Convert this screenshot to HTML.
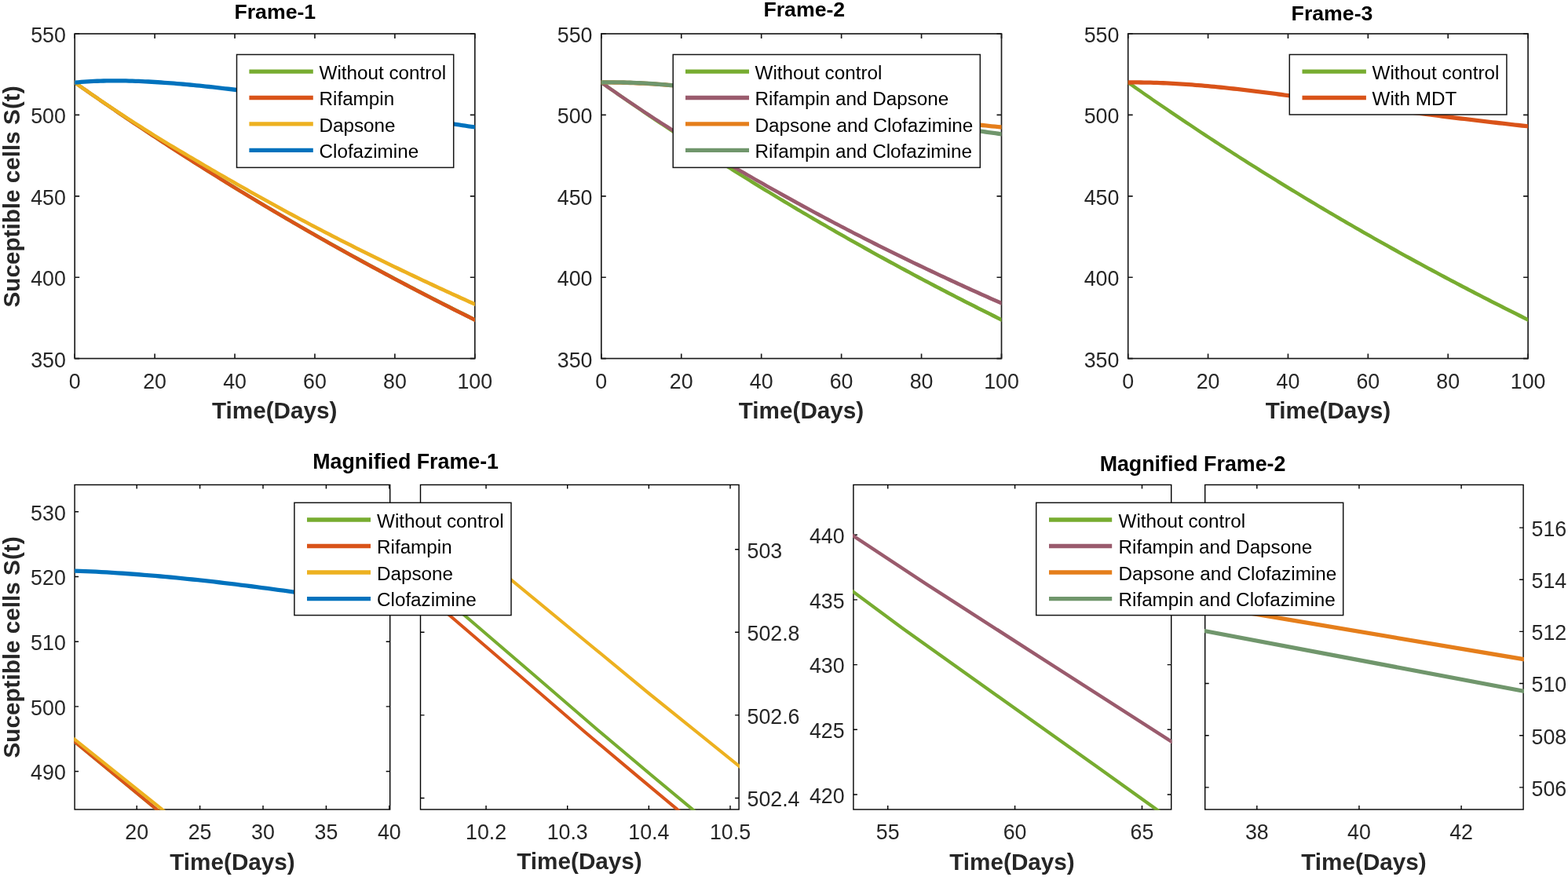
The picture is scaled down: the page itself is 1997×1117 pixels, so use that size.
<!DOCTYPE html>
<html lang="en">
<head>
<meta charset="utf-8">
<title>Susceptible cells S(t) - frames</title>
<style>
html,body{margin:0;padding:0;background:#fff;}
body{width:1997px;height:1117px;overflow:hidden;}
svg{display:block;position:absolute;left:0;top:0;}
text{font-family:"Liberation Sans",sans-serif;fill:#262626;}
.tk text{font-size:26.8px;}
.lg{font-size:24.25px;fill:#000;}
.lb{font-size:29.7px;font-weight:bold;}
.tt{font-size:26.7px;font-weight:bold;fill:#000;}
</style>
</head>
<body>
<svg width="1997" height="1117" viewBox="0 0 1997 1117">
<rect width="1997" height="1117" fill="#fff"/>
<g stroke="#1a1a1a" stroke-width="1.65" fill="none">
<rect x="95.2" y="43" width="509.6" height="413.6"/>
<path d="M95.2 456.6v-6M95.2 43v6M197.12 456.6v-6M197.12 43v6M299.04 456.6v-6M299.04 43v6M400.96 456.6v-6M400.96 43v6M502.88 456.6v-6M502.88 43v6M604.8 456.6v-6M604.8 43v6M95.2 456.6h6M604.8 456.6h-6M95.2 353.2h6M604.8 353.2h-6M95.2 249.8h6M604.8 249.8h-6M95.2 146.4h6M604.8 146.4h-6M95.2 43h6M604.8 43h-6"/>
</g>
<g class="tk">
<text transform="translate(95.2 494.9) scale(1 1.045)" text-anchor="middle">0</text>
<text transform="translate(197.12 494.9) scale(1 1.045)" text-anchor="middle">20</text>
<text transform="translate(299.04 494.9) scale(1 1.045)" text-anchor="middle">40</text>
<text transform="translate(400.96 494.9) scale(1 1.045)" text-anchor="middle">60</text>
<text transform="translate(502.88 494.9) scale(1 1.045)" text-anchor="middle">80</text>
<text transform="translate(604.8 494.9) scale(1 1.045)" text-anchor="middle">100</text>
<text transform="translate(83.9 467.5) scale(1 1.045)" text-anchor="end">350</text>
<text transform="translate(83.9 364.1) scale(1 1.045)" text-anchor="end">400</text>
<text transform="translate(83.9 260.7) scale(1 1.045)" text-anchor="end">450</text>
<text transform="translate(83.9 157.3) scale(1 1.045)" text-anchor="end">500</text>
<text transform="translate(83.9 53.9) scale(1 1.045)" text-anchor="end">550</text>
</g>
<clipPath id="c1"><rect x="94.4" y="42.2" width="511.2" height="415.2"/></clipPath>
<g clip-path="url(#c1)" stroke="none">
<polygon fill="#77AC30" points="95.2,102.39 99.28,105.26 103.35,108.12 107.43,110.98 111.51,113.82 115.58,116.66 119.66,119.49 123.74,122.31 127.81,125.13 131.89,127.93 135.97,130.73 140.04,133.52 144.12,136.3 148.2,139.08 152.28,141.84 156.35,144.6 160.43,147.35 164.51,150.09 168.58,152.83 172.66,155.56 176.74,158.28 180.81,160.99 184.89,163.69 188.97,166.39 193.04,169.08 197.12,171.76 201.2,174.43 205.27,177.09 209.35,179.75 213.43,182.4 217.5,185.05 221.58,187.68 225.66,190.31 229.73,192.93 233.81,195.54 237.89,198.15 241.96,200.74 246.04,203.34 250.12,205.92 254.2,208.49 258.27,211.06 262.35,213.62 266.43,216.18 270.5,218.72 274.58,221.26 278.66,223.8 282.73,226.32 286.81,228.84 290.89,231.35 294.96,233.85 299.04,236.35 303.12,238.84 307.19,241.32 311.27,243.8 315.35,246.26 319.42,248.72 323.5,251.18 327.58,253.62 331.65,256.06 335.73,258.5 339.81,260.92 343.88,263.34 347.96,265.76 352.04,268.16 356.12,270.56 360.19,272.95 364.27,275.34 368.35,277.71 372.42,280.09 376.5,282.45 380.58,284.81 384.65,287.16 388.73,289.5 392.81,291.84 396.88,294.17 400.96,296.5 405.04,298.81 409.11,301.13 413.19,303.43 417.27,305.73 421.34,308.02 425.42,310.31 429.5,312.58 433.57,314.86 437.65,317.12 441.73,319.38 445.8,321.63 449.88,323.88 453.96,326.12 458.04,328.35 462.11,330.58 466.19,332.8 470.27,335.02 474.34,337.22 478.42,339.43 482.5,341.62 486.57,343.81 490.65,345.99 494.73,348.17 498.8,350.34 502.88,352.51 506.96,354.66 511.03,356.82 515.11,358.96 519.19,361.1 523.26,363.24 527.34,365.36 531.42,367.49 535.49,369.6 539.57,371.71 543.65,373.81 547.72,375.91 551.8,378 555.88,380.09 559.96,382.17 564.03,384.24 568.11,386.31 572.19,388.37 576.26,390.43 580.34,392.48 584.42,394.52 588.49,396.56 592.57,398.6 596.65,400.62 600.72,402.64 604.8,404.66 604.8,409.96 600.72,407.94 596.65,405.92 592.57,403.9 588.49,401.86 584.42,399.82 580.34,397.78 576.26,395.73 572.19,393.67 568.11,391.61 564.03,389.54 559.96,387.47 555.88,385.39 551.8,383.3 547.72,381.21 543.65,379.11 539.57,377.01 535.49,374.9 531.42,372.79 527.34,370.66 523.26,368.54 519.19,366.4 515.11,364.26 511.03,362.12 506.96,359.96 502.88,357.81 498.8,355.64 494.73,353.47 490.65,351.29 486.57,349.11 482.5,346.92 478.42,344.73 474.34,342.52 470.27,340.32 466.19,338.1 462.11,335.88 458.04,333.65 453.96,331.42 449.88,329.18 445.8,326.93 441.73,324.68 437.65,322.42 433.57,320.16 429.5,317.88 425.42,315.61 421.34,313.32 417.27,311.03 413.19,308.73 409.11,306.43 405.04,304.11 400.96,301.8 396.88,299.47 392.81,297.14 388.73,294.8 384.65,292.46 380.58,290.11 376.5,287.75 372.42,285.39 368.35,283.01 364.27,280.64 360.19,278.25 356.12,275.86 352.04,273.46 347.96,271.06 343.88,268.64 339.81,266.22 335.73,263.8 331.65,261.36 327.58,258.92 323.5,256.48 319.42,254.02 315.35,251.56 311.27,249.1 307.19,246.62 303.12,244.14 299.04,241.65 294.96,239.15 290.89,236.65 286.81,234.14 282.73,231.62 278.66,229.1 274.58,226.56 270.5,224.02 266.43,221.48 262.35,218.92 258.27,216.36 254.2,213.79 250.12,211.22 246.04,208.64 241.96,206.04 237.89,203.45 233.81,200.84 229.73,198.23 225.66,195.61 221.58,192.98 217.5,190.35 213.43,187.7 209.35,185.05 205.27,182.39 201.2,179.73 197.12,177.06 193.04,174.38 188.97,171.69 184.89,168.99 180.81,166.29 176.74,163.58 172.66,160.86 168.58,158.13 164.51,155.39 160.43,152.65 156.35,149.9 152.28,147.14 148.2,144.38 144.12,141.6 140.04,138.82 135.97,136.03 131.89,133.23 127.81,130.43 123.74,127.61 119.66,124.79 115.58,121.96 111.51,119.12 107.43,116.28 103.35,113.42 99.28,110.56 95.2,107.69"/>
<polygon fill="#D95319" points="95.2,102.39 99.28,105.26 103.35,108.13 107.43,110.98 111.51,113.83 115.58,116.67 119.66,119.5 123.74,122.32 127.81,125.14 131.89,127.95 135.97,130.74 140.04,133.54 144.12,136.32 148.2,139.09 152.28,141.86 156.35,144.62 160.43,147.37 164.51,150.12 168.58,152.85 172.66,155.58 176.74,158.3 180.81,161.01 184.89,163.72 188.97,166.42 193.04,169.11 197.12,171.79 201.2,174.46 205.27,177.13 209.35,179.79 213.43,182.44 217.5,185.09 221.58,187.72 225.66,190.35 229.73,192.97 233.81,195.59 237.89,198.19 241.96,200.79 246.04,203.38 250.12,205.97 254.2,208.55 258.27,211.12 262.35,213.68 266.43,216.23 270.5,218.78 274.58,221.32 278.66,223.86 282.73,226.38 286.81,228.9 290.89,231.41 294.96,233.92 299.04,236.41 303.12,238.91 307.19,241.39 311.27,243.87 315.35,246.33 319.42,248.8 323.5,251.25 327.58,253.7 331.65,256.14 335.73,258.58 339.81,261 343.88,263.42 347.96,265.84 352.04,268.24 356.12,270.64 360.19,273.04 364.27,275.42 368.35,277.8 372.42,280.18 376.5,282.54 380.58,284.9 384.65,287.25 388.73,289.6 392.81,291.94 396.88,294.27 400.96,296.6 405.04,298.92 409.11,301.23 413.19,303.53 417.27,305.83 421.34,308.13 425.42,310.41 429.5,312.69 433.57,314.97 437.65,317.23 441.73,319.49 445.8,321.75 449.88,323.99 453.96,326.24 458.04,328.47 462.11,330.7 466.19,332.92 470.27,335.14 474.34,337.35 478.42,339.55 482.5,341.75 486.57,343.94 490.65,346.12 494.73,348.3 498.8,350.47 502.88,352.64 506.96,354.8 511.03,356.95 515.11,359.1 519.19,361.24 523.26,363.38 527.34,365.5 531.42,367.63 535.49,369.74 539.57,371.86 543.65,373.96 547.72,376.06 551.8,378.15 555.88,380.24 559.96,382.32 564.03,384.4 568.11,386.46 572.19,388.53 576.26,390.59 580.34,392.64 584.42,394.68 588.49,396.72 592.57,398.76 596.65,400.79 600.72,402.81 604.8,404.83 604.8,410.13 600.72,408.11 596.65,406.09 592.57,404.06 588.49,402.02 584.42,399.98 580.34,397.94 576.26,395.89 572.19,393.83 568.11,391.76 564.03,389.7 559.96,387.62 555.88,385.54 551.8,383.45 547.72,381.36 543.65,379.26 539.57,377.16 535.49,375.04 531.42,372.93 527.34,370.8 523.26,368.68 519.19,366.54 515.11,364.4 511.03,362.25 506.96,360.1 502.88,357.94 498.8,355.77 494.73,353.6 490.65,351.42 486.57,349.24 482.5,347.05 478.42,344.85 474.34,342.65 470.27,340.44 466.19,338.22 462.11,336 458.04,333.77 453.96,331.54 449.88,329.29 445.8,327.05 441.73,324.79 437.65,322.53 433.57,320.27 429.5,317.99 425.42,315.71 421.34,313.43 417.27,311.13 413.19,308.83 409.11,306.53 405.04,304.22 400.96,301.9 396.88,299.57 392.81,297.24 388.73,294.9 384.65,292.55 380.58,290.2 376.5,287.84 372.42,285.48 368.35,283.1 364.27,280.72 360.19,278.34 356.12,275.94 352.04,273.54 347.96,271.14 343.88,268.72 339.81,266.3 335.73,263.88 331.65,261.44 327.58,259 323.5,256.55 319.42,254.1 315.35,251.63 311.27,249.17 307.19,246.69 303.12,244.21 299.04,241.71 294.96,239.22 290.89,236.71 286.81,234.2 282.73,231.68 278.66,229.16 274.58,226.62 270.5,224.08 266.43,221.53 262.35,218.98 258.27,216.42 254.2,213.85 250.12,211.27 246.04,208.68 241.96,206.09 237.89,203.49 233.81,200.89 229.73,198.27 225.66,195.65 221.58,193.02 217.5,190.39 213.43,187.74 209.35,185.09 205.27,182.43 201.2,179.76 197.12,177.09 193.04,174.41 188.97,171.72 184.89,169.02 180.81,166.31 176.74,163.6 172.66,160.88 168.58,158.15 164.51,155.42 160.43,152.67 156.35,149.92 152.28,147.16 148.2,144.39 144.12,141.62 140.04,138.84 135.97,136.04 131.89,133.25 127.81,130.44 123.74,127.62 119.66,124.8 115.58,121.97 111.51,119.13 107.43,116.28 103.35,113.43 99.28,110.56 95.2,107.69"/>
<polygon fill="#EDB120" points="95.2,102.39 99.28,105.26 103.35,108.11 107.43,110.95 111.51,113.78 115.58,116.59 119.66,119.39 123.74,122.18 127.81,124.96 131.89,127.73 135.97,130.49 140.04,133.23 144.12,135.97 148.2,138.7 152.28,141.41 156.35,144.09 160.43,146.75 164.51,149.39 168.58,152.03 172.66,154.65 176.74,157.27 180.81,159.87 184.89,162.46 188.97,165.03 193.04,167.6 197.12,170.15 201.2,172.68 205.27,175.2 209.35,177.71 213.43,180.19 217.5,182.66 221.58,185.1 225.66,187.53 229.73,189.95 233.81,192.36 237.89,194.76 241.96,197.16 246.04,199.56 250.12,201.96 254.2,204.36 258.27,206.75 262.35,209.14 266.43,211.52 270.5,213.9 274.58,216.27 278.66,218.63 282.73,220.99 286.81,223.34 290.89,225.69 294.96,228.03 299.04,230.36 303.12,232.68 307.19,235 311.27,237.31 315.35,239.61 319.42,241.9 323.5,244.19 327.58,246.47 331.65,248.74 335.73,251 339.81,253.26 343.88,255.52 347.96,257.76 352.04,260 356.12,262.23 360.19,264.46 364.27,266.68 368.35,268.89 372.42,271.09 376.5,273.28 380.58,275.47 384.65,277.65 388.73,279.82 392.81,281.98 396.88,284.14 400.96,286.28 405.04,288.42 409.11,290.54 413.19,292.66 417.27,294.77 421.34,296.87 425.42,298.96 429.5,301.05 433.57,303.13 437.65,305.2 441.73,307.26 445.8,309.31 449.88,311.36 453.96,313.4 458.04,315.44 462.11,317.46 466.19,319.48 470.27,321.5 474.34,323.51 478.42,325.51 482.5,327.51 486.57,329.5 490.65,331.48 494.73,333.46 498.8,335.44 502.88,337.41 506.96,339.37 511.03,341.33 515.11,343.29 519.19,345.23 523.26,347.18 527.34,349.11 531.42,351.04 535.49,352.97 539.57,354.88 543.65,356.8 547.72,358.7 551.8,360.6 555.88,362.5 559.96,364.39 564.03,366.27 568.11,368.15 572.19,370.02 576.26,371.88 580.34,373.74 584.42,375.6 588.49,377.45 592.57,379.29 596.65,381.13 600.72,382.96 604.8,384.79 604.8,390.09 600.72,388.26 596.65,386.43 592.57,384.59 588.49,382.75 584.42,380.9 580.34,379.04 576.26,377.18 572.19,375.32 568.11,373.45 564.03,371.57 559.96,369.69 555.88,367.8 551.8,365.9 547.72,364 543.65,362.1 539.57,360.18 535.49,358.27 531.42,356.34 527.34,354.41 523.26,352.48 519.19,350.53 515.11,348.59 511.03,346.63 506.96,344.67 502.88,342.71 498.8,340.74 494.73,338.76 490.65,336.78 486.57,334.8 482.5,332.81 478.42,330.81 474.34,328.81 470.27,326.8 466.19,324.78 462.11,322.76 458.04,320.74 453.96,318.7 449.88,316.66 445.8,314.61 441.73,312.56 437.65,310.5 433.57,308.43 429.5,306.35 425.42,304.26 421.34,302.17 417.27,300.07 413.19,297.96 409.11,295.84 405.04,293.72 400.96,291.58 396.88,289.44 392.81,287.28 388.73,285.12 384.65,282.95 380.58,280.77 376.5,278.58 372.42,276.39 368.35,274.19 364.27,271.98 360.19,269.76 356.12,267.53 352.04,265.3 347.96,263.06 343.88,260.82 339.81,258.56 335.73,256.3 331.65,254.04 327.58,251.77 323.5,249.49 319.42,247.2 315.35,244.91 311.27,242.61 307.19,240.3 303.12,237.98 299.04,235.66 294.96,233.33 290.89,230.99 286.81,228.64 282.73,226.29 278.66,223.93 274.58,221.57 270.5,219.2 266.43,216.82 262.35,214.44 258.27,212.05 254.2,209.66 250.12,207.26 246.04,204.86 241.96,202.46 237.89,200.06 233.81,197.66 229.73,195.25 225.66,192.83 221.58,190.4 217.5,187.96 213.43,185.49 209.35,183.01 205.27,180.5 201.2,177.98 197.12,175.45 193.04,172.9 188.97,170.33 184.89,167.76 180.81,165.17 176.74,162.57 172.66,159.95 168.58,157.33 164.51,154.69 160.43,152.05 156.35,149.39 152.28,146.71 148.2,144 144.12,141.27 140.04,138.53 135.97,135.79 131.89,133.03 127.81,130.26 123.74,127.48 119.66,124.69 115.58,121.89 111.51,119.08 107.43,116.25 103.35,113.41 99.28,110.56 95.2,107.69"/>
<polygon fill="#0072BD" points="95.2,102.52 99.28,102.14 103.35,101.8 107.43,101.49 111.51,101.22 115.58,100.99 119.66,100.78 123.74,100.61 127.81,100.47 131.89,100.36 135.97,100.28 140.04,100.22 144.12,100.19 148.2,100.19 152.28,100.21 156.35,100.26 160.43,100.32 164.51,100.41 168.58,100.52 172.66,100.65 176.74,100.8 180.81,100.97 184.89,101.16 188.97,101.37 193.04,101.59 197.12,101.83 201.2,102.08 205.27,102.35 209.35,102.63 213.43,102.93 217.5,103.24 221.58,103.56 225.66,103.89 229.73,104.24 233.81,104.6 237.89,104.97 241.96,105.35 246.04,105.74 250.12,106.14 254.2,106.55 258.27,106.97 262.35,107.4 266.43,107.83 270.5,108.28 274.58,108.73 278.66,109.19 282.73,109.66 286.81,110.14 290.89,110.62 294.96,111.11 299.04,111.61 303.12,112.11 307.19,112.62 311.27,113.14 315.35,113.66 319.42,114.19 323.5,114.72 327.58,115.26 331.65,115.81 335.73,116.36 339.81,116.92 343.88,117.48 347.96,118.05 352.04,118.62 356.12,119.2 360.19,119.78 364.27,120.37 368.35,120.96 372.42,121.56 376.5,122.16 380.58,122.77 384.65,123.38 388.73,123.99 392.81,124.61 396.88,125.24 400.96,125.87 405.04,126.5 409.11,127.14 413.19,127.78 417.27,128.43 421.34,129.08 425.42,129.73 429.5,130.39 433.57,131.05 437.65,131.71 441.73,132.38 445.8,133.05 449.88,133.73 453.96,134.4 458.04,135.09 462.11,135.77 466.19,136.46 470.27,137.14 474.34,137.84 478.42,138.53 482.5,139.22 486.57,139.92 490.65,140.62 494.73,141.32 498.8,142.02 502.88,142.72 506.96,143.42 511.03,144.12 515.11,144.82 519.19,145.52 523.26,146.22 527.34,146.92 531.42,147.62 535.49,148.31 539.57,149.01 543.65,149.69 547.72,150.38 551.8,151.06 555.88,151.74 559.96,152.41 564.03,153.08 568.11,153.74 572.19,154.39 576.26,155.04 580.34,155.68 584.42,156.31 588.49,156.93 592.57,157.54 596.65,158.14 600.72,158.73 604.8,159.3 604.8,164.6 600.72,164.03 596.65,163.44 592.57,162.84 588.49,162.23 584.42,161.61 580.34,160.98 576.26,160.34 572.19,159.69 568.11,159.04 564.03,158.38 559.96,157.71 555.88,157.04 551.8,156.36 547.72,155.68 543.65,154.99 539.57,154.31 535.49,153.61 531.42,152.92 527.34,152.22 523.26,151.52 519.19,150.82 515.11,150.12 511.03,149.42 506.96,148.72 502.88,148.02 498.8,147.32 494.73,146.62 490.65,145.92 486.57,145.22 482.5,144.52 478.42,143.83 474.34,143.14 470.27,142.44 466.19,141.76 462.11,141.07 458.04,140.39 453.96,139.7 449.88,139.03 445.8,138.35 441.73,137.68 437.65,137.01 433.57,136.35 429.5,135.69 425.42,135.03 421.34,134.38 417.27,133.73 413.19,133.08 409.11,132.44 405.04,131.8 400.96,131.17 396.88,130.54 392.81,129.91 388.73,129.29 384.65,128.68 380.58,128.07 376.5,127.46 372.42,126.86 368.35,126.26 364.27,125.67 360.19,125.08 356.12,124.5 352.04,123.92 347.96,123.35 343.88,122.78 339.81,122.22 335.73,121.66 331.65,121.11 327.58,120.56 323.5,120.02 319.42,119.49 315.35,118.96 311.27,118.44 307.19,117.92 303.12,117.41 299.04,116.91 294.96,116.41 290.89,115.92 286.81,115.44 282.73,114.96 278.66,114.49 274.58,114.03 270.5,113.58 266.43,113.13 262.35,112.7 258.27,112.27 254.2,111.85 250.12,111.44 246.04,111.04 241.96,110.65 237.89,110.27 233.81,109.9 229.73,109.54 225.66,109.19 221.58,108.86 217.5,108.54 213.43,108.23 209.35,107.93 205.27,107.65 201.2,107.38 197.12,107.13 193.04,106.89 188.97,106.67 184.89,106.46 180.81,106.27 176.74,106.1 172.66,105.95 168.58,105.82 164.51,105.71 160.43,105.62 156.35,105.56 152.28,105.51 148.2,105.49 144.12,105.49 140.04,105.52 135.97,105.58 131.89,105.66 127.81,105.77 123.74,105.91 119.66,106.08 115.58,106.29 111.51,106.52 107.43,106.79 103.35,107.1 99.28,107.44 95.2,107.82"/>
</g>
<g stroke="#1a1a1a" stroke-width="1.65" fill="none">
<rect x="765.8" y="43" width="509.7" height="413.6"/>
<path d="M765.8 456.6v-6M765.8 43v6M867.74 456.6v-6M867.74 43v6M969.68 456.6v-6M969.68 43v6M1071.62 456.6v-6M1071.62 43v6M1173.56 456.6v-6M1173.56 43v6M1275.5 456.6v-6M1275.5 43v6M765.8 456.6h6M1275.5 456.6h-6M765.8 353.2h6M1275.5 353.2h-6M765.8 249.8h6M1275.5 249.8h-6M765.8 146.4h6M1275.5 146.4h-6M765.8 43h6M1275.5 43h-6"/>
</g>
<g class="tk">
<text transform="translate(765.8 494.9) scale(1 1.045)" text-anchor="middle">0</text>
<text transform="translate(867.74 494.9) scale(1 1.045)" text-anchor="middle">20</text>
<text transform="translate(969.68 494.9) scale(1 1.045)" text-anchor="middle">40</text>
<text transform="translate(1071.62 494.9) scale(1 1.045)" text-anchor="middle">60</text>
<text transform="translate(1173.56 494.9) scale(1 1.045)" text-anchor="middle">80</text>
<text transform="translate(1275.5 494.9) scale(1 1.045)" text-anchor="middle">100</text>
<text transform="translate(754.5 467.5) scale(1 1.045)" text-anchor="end">350</text>
<text transform="translate(754.5 364.1) scale(1 1.045)" text-anchor="end">400</text>
<text transform="translate(754.5 260.7) scale(1 1.045)" text-anchor="end">450</text>
<text transform="translate(754.5 157.3) scale(1 1.045)" text-anchor="end">500</text>
<text transform="translate(754.5 53.9) scale(1 1.045)" text-anchor="end">550</text>
</g>
<clipPath id="c2"><rect x="765" y="42.2" width="511.3" height="415.2"/></clipPath>
<g clip-path="url(#c2)" stroke="none">
<polygon fill="#77AC30" points="765.8,102.39 769.88,105.26 773.96,108.12 778.03,110.98 782.11,113.82 786.19,116.66 790.27,119.49 794.34,122.31 798.42,125.13 802.5,127.93 806.58,130.73 810.65,133.52 814.73,136.3 818.81,139.08 822.89,141.84 826.96,144.6 831.04,147.35 835.12,150.09 839.2,152.83 843.27,155.56 847.35,158.28 851.43,160.99 855.51,163.69 859.58,166.39 863.66,169.08 867.74,171.76 871.82,174.43 875.9,177.09 879.97,179.75 884.05,182.4 888.13,185.05 892.21,187.68 896.28,190.31 900.36,192.93 904.44,195.54 908.52,198.15 912.59,200.74 916.67,203.34 920.75,205.92 924.83,208.49 928.9,211.06 932.98,213.62 937.06,216.18 941.14,218.72 945.21,221.26 949.29,223.8 953.37,226.32 957.45,228.84 961.52,231.35 965.6,233.85 969.68,236.35 973.76,238.84 977.84,241.32 981.91,243.8 985.99,246.26 990.07,248.72 994.15,251.18 998.22,253.62 1002.3,256.06 1006.38,258.5 1010.46,260.92 1014.53,263.34 1018.61,265.76 1022.69,268.16 1026.77,270.56 1030.84,272.95 1034.92,275.34 1039,277.71 1043.08,280.09 1047.15,282.45 1051.23,284.81 1055.31,287.16 1059.39,289.5 1063.46,291.84 1067.54,294.17 1071.62,296.5 1075.7,298.81 1079.78,301.13 1083.85,303.43 1087.93,305.73 1092.01,308.02 1096.09,310.31 1100.16,312.58 1104.24,314.86 1108.32,317.12 1112.4,319.38 1116.47,321.63 1120.55,323.88 1124.63,326.12 1128.71,328.35 1132.78,330.58 1136.86,332.8 1140.94,335.02 1145.02,337.22 1149.09,339.43 1153.17,341.62 1157.25,343.81 1161.33,345.99 1165.4,348.17 1169.48,350.34 1173.56,352.51 1177.64,354.66 1181.72,356.82 1185.79,358.96 1189.87,361.1 1193.95,363.24 1198.03,365.36 1202.1,367.49 1206.18,369.6 1210.26,371.71 1214.34,373.81 1218.41,375.91 1222.49,378 1226.57,380.09 1230.65,382.17 1234.72,384.24 1238.8,386.31 1242.88,388.37 1246.96,390.43 1251.03,392.48 1255.11,394.52 1259.19,396.56 1263.27,398.6 1267.34,400.62 1271.42,402.64 1275.5,404.66 1275.5,409.96 1271.42,407.94 1267.34,405.92 1263.27,403.9 1259.19,401.86 1255.11,399.82 1251.03,397.78 1246.96,395.73 1242.88,393.67 1238.8,391.61 1234.72,389.54 1230.65,387.47 1226.57,385.39 1222.49,383.3 1218.41,381.21 1214.34,379.11 1210.26,377.01 1206.18,374.9 1202.1,372.79 1198.03,370.66 1193.95,368.54 1189.87,366.4 1185.79,364.26 1181.72,362.12 1177.64,359.96 1173.56,357.81 1169.48,355.64 1165.4,353.47 1161.33,351.29 1157.25,349.11 1153.17,346.92 1149.09,344.73 1145.02,342.52 1140.94,340.32 1136.86,338.1 1132.78,335.88 1128.71,333.65 1124.63,331.42 1120.55,329.18 1116.47,326.93 1112.4,324.68 1108.32,322.42 1104.24,320.16 1100.16,317.88 1096.09,315.61 1092.01,313.32 1087.93,311.03 1083.85,308.73 1079.78,306.43 1075.7,304.11 1071.62,301.8 1067.54,299.47 1063.46,297.14 1059.39,294.8 1055.31,292.46 1051.23,290.11 1047.15,287.75 1043.08,285.39 1039,283.01 1034.92,280.64 1030.84,278.25 1026.77,275.86 1022.69,273.46 1018.61,271.06 1014.53,268.64 1010.46,266.22 1006.38,263.8 1002.3,261.36 998.22,258.92 994.15,256.48 990.07,254.02 985.99,251.56 981.91,249.1 977.84,246.62 973.76,244.14 969.68,241.65 965.6,239.15 961.52,236.65 957.45,234.14 953.37,231.62 949.29,229.1 945.21,226.56 941.14,224.02 937.06,221.48 932.98,218.92 928.9,216.36 924.83,213.79 920.75,211.22 916.67,208.64 912.59,206.04 908.52,203.45 904.44,200.84 900.36,198.23 896.28,195.61 892.21,192.98 888.13,190.35 884.05,187.7 879.97,185.05 875.9,182.39 871.82,179.73 867.74,177.06 863.66,174.38 859.58,171.69 855.51,168.99 851.43,166.29 847.35,163.58 843.27,160.86 839.2,158.13 835.12,155.39 831.04,152.65 826.96,149.9 822.89,147.14 818.81,144.38 814.73,141.6 810.65,138.82 806.58,136.03 802.5,133.23 798.42,130.43 794.34,127.61 790.27,124.79 786.19,121.96 782.11,119.12 778.03,116.28 773.96,113.42 769.88,110.56 765.8,107.69"/>
<polygon fill="#9A5B6D" points="765.8,102.39 769.88,105.26 773.96,108.11 778.03,110.95 782.11,113.78 786.19,116.59 790.27,119.39 794.34,122.18 798.42,124.96 802.5,127.73 806.58,130.49 810.65,133.23 814.73,135.97 818.81,138.7 822.89,141.41 826.96,144.09 831.04,146.75 835.12,149.39 839.2,152.03 843.27,154.65 847.35,157.27 851.43,159.87 855.51,162.46 859.58,165.03 863.66,167.6 867.74,170.15 871.82,172.68 875.9,175.2 879.97,177.71 884.05,180.2 888.13,182.66 892.21,185.1 896.28,187.53 900.36,189.95 904.44,192.36 908.52,194.76 912.59,197.16 916.67,199.56 920.75,201.96 924.83,204.36 928.9,206.75 932.98,209.13 937.06,211.51 941.14,213.88 945.21,216.25 949.29,218.61 953.37,220.96 957.45,223.31 961.52,225.64 965.6,227.98 969.68,230.3 973.76,232.62 977.84,234.93 981.91,237.23 985.99,239.53 990.07,241.81 994.15,244.09 998.22,246.36 1002.3,248.62 1006.38,250.87 1010.46,253.12 1014.53,255.36 1018.61,257.6 1022.69,259.83 1026.77,262.05 1030.84,264.26 1034.92,266.46 1039,268.66 1043.08,270.85 1047.15,273.03 1051.23,275.2 1055.31,277.37 1059.39,279.53 1063.46,281.68 1067.54,283.82 1071.62,285.95 1075.7,288.07 1079.78,290.19 1083.85,292.3 1087.93,294.4 1092.01,296.49 1096.09,298.57 1100.16,300.65 1104.24,302.71 1108.32,304.77 1112.4,306.83 1116.47,308.87 1120.55,310.91 1124.63,312.94 1128.71,314.96 1132.78,316.98 1136.86,318.99 1140.94,320.99 1145.02,322.99 1149.09,324.98 1153.17,326.96 1157.25,328.94 1161.33,330.91 1165.4,332.88 1169.48,334.84 1173.56,336.79 1177.64,338.74 1181.72,340.68 1185.79,342.61 1189.87,344.54 1193.95,346.46 1198.03,348.38 1202.1,350.28 1206.18,352.19 1210.26,354.08 1214.34,355.97 1218.41,357.86 1222.49,359.73 1226.57,361.6 1230.65,363.47 1234.72,365.33 1238.8,367.18 1242.88,369.02 1246.96,370.86 1251.03,372.7 1255.11,374.52 1259.19,376.34 1263.27,378.16 1267.34,379.97 1271.42,381.77 1275.5,383.57 1275.5,388.87 1271.42,387.07 1267.34,385.27 1263.27,383.46 1259.19,381.64 1255.11,379.82 1251.03,378 1246.96,376.16 1242.88,374.32 1238.8,372.48 1234.72,370.63 1230.65,368.77 1226.57,366.9 1222.49,365.03 1218.41,363.16 1214.34,361.27 1210.26,359.38 1206.18,357.49 1202.1,355.58 1198.03,353.68 1193.95,351.76 1189.87,349.84 1185.79,347.91 1181.72,345.98 1177.64,344.04 1173.56,342.09 1169.48,340.14 1165.4,338.18 1161.33,336.21 1157.25,334.24 1153.17,332.26 1149.09,330.28 1145.02,328.29 1140.94,326.29 1136.86,324.29 1132.78,322.28 1128.71,320.26 1124.63,318.24 1120.55,316.21 1116.47,314.17 1112.4,312.13 1108.32,310.07 1104.24,308.01 1100.16,305.95 1096.09,303.87 1092.01,301.79 1087.93,299.7 1083.85,297.6 1079.78,295.49 1075.7,293.37 1071.62,291.25 1067.54,289.12 1063.46,286.98 1059.39,284.83 1055.31,282.67 1051.23,280.5 1047.15,278.33 1043.08,276.15 1039,273.96 1034.92,271.76 1030.84,269.56 1026.77,267.35 1022.69,265.13 1018.61,262.9 1014.53,260.66 1010.46,258.42 1006.38,256.17 1002.3,253.92 998.22,251.66 994.15,249.39 990.07,247.11 985.99,244.83 981.91,242.53 977.84,240.23 973.76,237.92 969.68,235.6 965.6,233.28 961.52,230.94 957.45,228.61 953.37,226.26 949.29,223.91 945.21,221.55 941.14,219.18 937.06,216.81 932.98,214.43 928.9,212.05 924.83,209.66 920.75,207.26 916.67,204.86 912.59,202.46 908.52,200.06 904.44,197.66 900.36,195.25 896.28,192.83 892.21,190.4 888.13,187.96 884.05,185.5 879.97,183.01 875.9,180.5 871.82,177.98 867.74,175.45 863.66,172.9 859.58,170.33 855.51,167.76 851.43,165.17 847.35,162.57 843.27,159.95 839.2,157.33 835.12,154.69 831.04,152.05 826.96,149.39 822.89,146.71 818.81,144 814.73,141.27 810.65,138.53 806.58,135.79 802.5,133.03 798.42,130.26 794.34,127.48 790.27,124.69 786.19,121.89 782.11,119.08 778.03,116.25 773.96,113.41 769.88,110.56 765.8,107.69"/>
<polygon fill="#E57E1B" points="765.8,102.31 769.88,102.29 773.96,102.3 778.03,102.32 782.11,102.36 786.19,102.43 790.27,102.51 794.34,102.6 798.42,102.72 802.5,102.85 806.58,103 810.65,103.17 814.73,103.35 818.81,103.55 822.89,103.76 826.96,103.99 831.04,104.24 835.12,104.5 839.2,104.77 843.27,105.05 847.35,105.35 851.43,105.66 855.51,105.99 859.58,106.33 863.66,106.67 867.74,107.03 871.82,107.41 875.9,107.79 879.97,108.18 884.05,108.59 888.13,109 892.21,109.42 896.28,109.86 900.36,110.3 904.44,110.75 908.52,111.21 912.59,111.68 916.67,112.15 920.75,112.64 924.83,113.13 928.9,113.63 932.98,114.13 937.06,114.64 941.14,115.16 945.21,115.69 949.29,116.22 953.37,116.75 957.45,117.29 961.52,117.84 965.6,118.39 969.68,118.94 973.76,119.5 977.84,120.06 981.91,120.63 985.99,121.2 990.07,121.77 994.15,122.35 998.22,122.93 1002.3,123.51 1006.38,124.09 1010.46,124.68 1014.53,125.27 1018.61,125.86 1022.69,126.45 1026.77,127.04 1030.84,127.63 1034.92,128.23 1039,128.82 1043.08,129.42 1047.15,130.02 1051.23,130.61 1055.31,131.21 1059.39,131.8 1063.46,132.4 1067.54,133 1071.62,133.59 1075.7,134.18 1079.78,134.77 1083.85,135.37 1087.93,135.95 1092.01,136.54 1096.09,137.13 1100.16,137.71 1104.24,138.29 1108.32,138.87 1112.4,139.45 1116.47,140.03 1120.55,140.6 1124.63,141.17 1128.71,141.73 1132.78,142.3 1136.86,142.86 1140.94,143.42 1145.02,143.97 1149.09,144.52 1153.17,145.07 1157.25,145.61 1161.33,146.15 1165.4,146.68 1169.48,147.22 1173.56,147.74 1177.64,148.27 1181.72,148.79 1185.79,149.3 1189.87,149.81 1193.95,150.31 1198.03,150.81 1202.1,151.31 1206.18,151.8 1210.26,152.29 1214.34,152.77 1218.41,153.25 1222.49,153.72 1226.57,154.18 1230.65,154.64 1234.72,155.1 1238.8,155.55 1242.88,156 1246.96,156.44 1251.03,156.87 1255.11,157.3 1259.19,157.72 1263.27,158.14 1267.34,158.55 1271.42,158.96 1275.5,159.36 1275.5,164.66 1271.42,164.26 1267.34,163.85 1263.27,163.44 1259.19,163.02 1255.11,162.6 1251.03,162.17 1246.96,161.74 1242.88,161.3 1238.8,160.85 1234.72,160.4 1230.65,159.94 1226.57,159.48 1222.49,159.02 1218.41,158.55 1214.34,158.07 1210.26,157.59 1206.18,157.1 1202.1,156.61 1198.03,156.11 1193.95,155.61 1189.87,155.11 1185.79,154.6 1181.72,154.09 1177.64,153.57 1173.56,153.04 1169.48,152.52 1165.4,151.98 1161.33,151.45 1157.25,150.91 1153.17,150.37 1149.09,149.82 1145.02,149.27 1140.94,148.72 1136.86,148.16 1132.78,147.6 1128.71,147.03 1124.63,146.47 1120.55,145.9 1116.47,145.33 1112.4,144.75 1108.32,144.17 1104.24,143.59 1100.16,143.01 1096.09,142.43 1092.01,141.84 1087.93,141.25 1083.85,140.67 1079.78,140.07 1075.7,139.48 1071.62,138.89 1067.54,138.3 1063.46,137.7 1059.39,137.1 1055.31,136.51 1051.23,135.91 1047.15,135.32 1043.08,134.72 1039,134.12 1034.92,133.53 1030.84,132.93 1026.77,132.34 1022.69,131.75 1018.61,131.16 1014.53,130.57 1010.46,129.98 1006.38,129.39 1002.3,128.81 998.22,128.23 994.15,127.65 990.07,127.07 985.99,126.5 981.91,125.93 977.84,125.36 973.76,124.8 969.68,124.24 965.6,123.69 961.52,123.14 957.45,122.59 953.37,122.05 949.29,121.52 945.21,120.99 941.14,120.46 937.06,119.94 932.98,119.43 928.9,118.93 924.83,118.43 920.75,117.94 916.67,117.45 912.59,116.98 908.52,116.51 904.44,116.05 900.36,115.6 896.28,115.16 892.21,114.72 888.13,114.3 884.05,113.89 879.97,113.48 875.9,113.09 871.82,112.71 867.74,112.33 863.66,111.97 859.58,111.63 855.51,111.29 851.43,110.96 847.35,110.65 843.27,110.35 839.2,110.07 835.12,109.8 831.04,109.54 826.96,109.29 822.89,109.06 818.81,108.85 814.73,108.65 810.65,108.47 806.58,108.3 802.5,108.15 798.42,108.02 794.34,107.9 790.27,107.81 786.19,107.73 782.11,107.66 778.03,107.62 773.96,107.6 769.88,107.59 765.8,107.61"/>
<polygon fill="#70966C" points="765.8,102.33 769.88,102.25 773.96,102.21 778.03,102.18 782.11,102.19 786.19,102.22 790.27,102.27 794.34,102.35 798.42,102.46 802.5,102.58 806.58,102.73 810.65,102.9 814.73,103.09 818.81,103.3 822.89,103.54 826.96,103.79 831.04,104.06 835.12,104.35 839.2,104.65 843.27,104.98 847.35,105.32 851.43,105.68 855.51,106.05 859.58,106.44 863.66,106.85 867.74,107.26 871.82,107.7 875.9,108.14 879.97,108.6 884.05,109.07 888.13,109.55 892.21,110.05 896.28,110.56 900.36,111.07 904.44,111.6 908.52,112.14 912.59,112.68 916.67,113.24 920.75,113.8 924.83,114.37 928.9,114.95 932.98,115.54 937.06,116.14 941.14,116.74 945.21,117.35 949.29,117.96 953.37,118.58 957.45,119.21 961.52,119.84 965.6,120.47 969.68,121.11 973.76,121.75 977.84,122.4 981.91,123.05 985.99,123.7 990.07,124.36 994.15,125.02 998.22,125.68 1002.3,126.35 1006.38,127.01 1010.46,127.68 1014.53,128.35 1018.61,129.02 1022.69,129.69 1026.77,130.36 1030.84,131.03 1034.92,131.7 1039,132.37 1043.08,133.05 1047.15,133.72 1051.23,134.39 1055.31,135.06 1059.39,135.73 1063.46,136.4 1067.54,137.06 1071.62,137.73 1075.7,138.4 1079.78,139.06 1083.85,139.72 1087.93,140.38 1092.01,141.04 1096.09,141.69 1100.16,142.35 1104.24,143 1108.32,143.65 1112.4,144.29 1116.47,144.94 1120.55,145.58 1124.63,146.22 1128.71,146.85 1132.78,147.49 1136.86,148.12 1140.94,148.75 1145.02,149.37 1149.09,149.99 1153.17,150.61 1157.25,151.23 1161.33,151.85 1165.4,152.46 1169.48,153.07 1173.56,153.67 1177.64,154.28 1181.72,154.88 1185.79,155.48 1189.87,156.07 1193.95,156.67 1198.03,157.26 1202.1,157.85 1206.18,158.43 1210.26,159.02 1214.34,159.6 1218.41,160.18 1222.49,160.76 1226.57,161.33 1230.65,161.91 1234.72,162.48 1238.8,163.05 1242.88,163.62 1246.96,164.19 1251.03,164.76 1255.11,165.33 1259.19,165.9 1263.27,166.47 1267.34,167.03 1271.42,167.6 1275.5,168.17 1275.5,173.47 1271.42,172.9 1267.34,172.33 1263.27,171.77 1259.19,171.2 1255.11,170.63 1251.03,170.06 1246.96,169.49 1242.88,168.92 1238.8,168.35 1234.72,167.78 1230.65,167.21 1226.57,166.63 1222.49,166.06 1218.41,165.48 1214.34,164.9 1210.26,164.32 1206.18,163.73 1202.1,163.15 1198.03,162.56 1193.95,161.97 1189.87,161.37 1185.79,160.78 1181.72,160.18 1177.64,159.58 1173.56,158.97 1169.48,158.37 1165.4,157.76 1161.33,157.15 1157.25,156.53 1153.17,155.91 1149.09,155.29 1145.02,154.67 1140.94,154.05 1136.86,153.42 1132.78,152.79 1128.71,152.15 1124.63,151.52 1120.55,150.88 1116.47,150.24 1112.4,149.59 1108.32,148.95 1104.24,148.3 1100.16,147.65 1096.09,146.99 1092.01,146.34 1087.93,145.68 1083.85,145.02 1079.78,144.36 1075.7,143.7 1071.62,143.03 1067.54,142.36 1063.46,141.7 1059.39,141.03 1055.31,140.36 1051.23,139.69 1047.15,139.02 1043.08,138.35 1039,137.67 1034.92,137 1030.84,136.33 1026.77,135.66 1022.69,134.99 1018.61,134.32 1014.53,133.65 1010.46,132.98 1006.38,132.31 1002.3,131.65 998.22,130.98 994.15,130.32 990.07,129.66 985.99,129 981.91,128.35 977.84,127.7 973.76,127.05 969.68,126.41 965.6,125.77 961.52,125.14 957.45,124.51 953.37,123.88 949.29,123.26 945.21,122.65 941.14,122.04 937.06,121.44 932.98,120.84 928.9,120.25 924.83,119.67 920.75,119.1 916.67,118.54 912.59,117.98 908.52,117.44 904.44,116.9 900.36,116.37 896.28,115.86 892.21,115.35 888.13,114.85 884.05,114.37 879.97,113.9 875.9,113.44 871.82,113 867.74,112.56 863.66,112.15 859.58,111.74 855.51,111.35 851.43,110.98 847.35,110.62 843.27,110.28 839.2,109.95 835.12,109.65 831.04,109.36 826.96,109.09 822.89,108.84 818.81,108.6 814.73,108.39 810.65,108.2 806.58,108.03 802.5,107.88 798.42,107.76 794.34,107.65 790.27,107.57 786.19,107.52 782.11,107.49 778.03,107.48 773.96,107.51 769.88,107.55 765.8,107.63"/>
</g>
<g stroke="#1a1a1a" stroke-width="1.65" fill="none">
<rect x="1436.7" y="43" width="509.4" height="413.6"/>
<path d="M1436.7 456.6v-6M1436.7 43v6M1538.58 456.6v-6M1538.58 43v6M1640.46 456.6v-6M1640.46 43v6M1742.34 456.6v-6M1742.34 43v6M1844.22 456.6v-6M1844.22 43v6M1946.1 456.6v-6M1946.1 43v6M1436.7 456.6h6M1946.1 456.6h-6M1436.7 353.2h6M1946.1 353.2h-6M1436.7 249.8h6M1946.1 249.8h-6M1436.7 146.4h6M1946.1 146.4h-6M1436.7 43h6M1946.1 43h-6"/>
</g>
<g class="tk">
<text transform="translate(1436.7 494.9) scale(1 1.045)" text-anchor="middle">0</text>
<text transform="translate(1538.58 494.9) scale(1 1.045)" text-anchor="middle">20</text>
<text transform="translate(1640.46 494.9) scale(1 1.045)" text-anchor="middle">40</text>
<text transform="translate(1742.34 494.9) scale(1 1.045)" text-anchor="middle">60</text>
<text transform="translate(1844.22 494.9) scale(1 1.045)" text-anchor="middle">80</text>
<text transform="translate(1946.1 494.9) scale(1 1.045)" text-anchor="middle">100</text>
<text transform="translate(1425.4 467.5) scale(1 1.045)" text-anchor="end">350</text>
<text transform="translate(1425.4 364.1) scale(1 1.045)" text-anchor="end">400</text>
<text transform="translate(1425.4 260.7) scale(1 1.045)" text-anchor="end">450</text>
<text transform="translate(1425.4 157.3) scale(1 1.045)" text-anchor="end">500</text>
<text transform="translate(1425.4 53.9) scale(1 1.045)" text-anchor="end">550</text>
</g>
<clipPath id="c3"><rect x="1435.9" y="42.2" width="511" height="415.2"/></clipPath>
<g clip-path="url(#c3)" stroke="none">
<polygon fill="#77AC30" points="1436.7,102.39 1440.78,105.26 1444.85,108.12 1448.93,110.98 1453,113.82 1457.08,116.66 1461.15,119.49 1465.23,122.31 1469.3,125.13 1473.38,127.93 1477.45,130.73 1481.53,133.52 1485.6,136.3 1489.68,139.08 1493.75,141.84 1497.83,144.6 1501.9,147.35 1505.98,150.09 1510.05,152.83 1514.13,155.56 1518.2,158.28 1522.28,160.99 1526.35,163.69 1530.43,166.39 1534.5,169.08 1538.58,171.76 1542.66,174.43 1546.73,177.09 1550.81,179.75 1554.88,182.4 1558.96,185.05 1563.03,187.68 1567.11,190.31 1571.18,192.93 1575.26,195.54 1579.33,198.15 1583.41,200.74 1587.48,203.34 1591.56,205.92 1595.63,208.49 1599.71,211.06 1603.78,213.62 1607.86,216.18 1611.93,218.72 1616.01,221.26 1620.08,223.8 1624.16,226.32 1628.23,228.84 1632.31,231.35 1636.38,233.85 1640.46,236.35 1644.54,238.84 1648.61,241.32 1652.69,243.8 1656.76,246.26 1660.84,248.72 1664.91,251.18 1668.99,253.62 1673.06,256.06 1677.14,258.5 1681.21,260.92 1685.29,263.34 1689.36,265.76 1693.44,268.16 1697.51,270.56 1701.59,272.95 1705.66,275.34 1709.74,277.71 1713.81,280.09 1717.89,282.45 1721.96,284.81 1726.04,287.16 1730.11,289.5 1734.19,291.84 1738.26,294.17 1742.34,296.5 1746.42,298.81 1750.49,301.13 1754.57,303.43 1758.64,305.73 1762.72,308.02 1766.79,310.31 1770.87,312.58 1774.94,314.86 1779.02,317.12 1783.09,319.38 1787.17,321.63 1791.24,323.88 1795.32,326.12 1799.39,328.35 1803.47,330.58 1807.54,332.8 1811.62,335.02 1815.69,337.22 1819.77,339.43 1823.84,341.62 1827.92,343.81 1831.99,345.99 1836.07,348.17 1840.14,350.34 1844.22,352.51 1848.3,354.66 1852.37,356.82 1856.45,358.96 1860.52,361.1 1864.6,363.24 1868.67,365.36 1872.75,367.49 1876.82,369.6 1880.9,371.71 1884.97,373.81 1889.05,375.91 1893.12,378 1897.2,380.09 1901.27,382.17 1905.35,384.24 1909.42,386.31 1913.5,388.37 1917.57,390.43 1921.65,392.48 1925.72,394.52 1929.8,396.56 1933.87,398.6 1937.95,400.62 1942.02,402.64 1946.1,404.66 1946.1,409.96 1942.02,407.94 1937.95,405.92 1933.87,403.9 1929.8,401.86 1925.72,399.82 1921.65,397.78 1917.57,395.73 1913.5,393.67 1909.42,391.61 1905.35,389.54 1901.27,387.47 1897.2,385.39 1893.12,383.3 1889.05,381.21 1884.97,379.11 1880.9,377.01 1876.82,374.9 1872.75,372.79 1868.67,370.66 1864.6,368.54 1860.52,366.4 1856.45,364.26 1852.37,362.12 1848.3,359.96 1844.22,357.81 1840.14,355.64 1836.07,353.47 1831.99,351.29 1827.92,349.11 1823.84,346.92 1819.77,344.73 1815.69,342.52 1811.62,340.32 1807.54,338.1 1803.47,335.88 1799.39,333.65 1795.32,331.42 1791.24,329.18 1787.17,326.93 1783.09,324.68 1779.02,322.42 1774.94,320.16 1770.87,317.88 1766.79,315.61 1762.72,313.32 1758.64,311.03 1754.57,308.73 1750.49,306.43 1746.42,304.11 1742.34,301.8 1738.26,299.47 1734.19,297.14 1730.11,294.8 1726.04,292.46 1721.96,290.11 1717.89,287.75 1713.81,285.39 1709.74,283.01 1705.66,280.64 1701.59,278.25 1697.51,275.86 1693.44,273.46 1689.36,271.06 1685.29,268.64 1681.21,266.22 1677.14,263.8 1673.06,261.36 1668.99,258.92 1664.91,256.48 1660.84,254.02 1656.76,251.56 1652.69,249.1 1648.61,246.62 1644.54,244.14 1640.46,241.65 1636.38,239.15 1632.31,236.65 1628.23,234.14 1624.16,231.62 1620.08,229.1 1616.01,226.56 1611.93,224.02 1607.86,221.48 1603.78,218.92 1599.71,216.36 1595.63,213.79 1591.56,211.22 1587.48,208.64 1583.41,206.04 1579.33,203.45 1575.26,200.84 1571.18,198.23 1567.11,195.61 1563.03,192.98 1558.96,190.35 1554.88,187.7 1550.81,185.05 1546.73,182.39 1542.66,179.73 1538.58,177.06 1534.5,174.38 1530.43,171.69 1526.35,168.99 1522.28,166.29 1518.2,163.58 1514.13,160.86 1510.05,158.13 1505.98,155.39 1501.9,152.65 1497.83,149.9 1493.75,147.14 1489.68,144.38 1485.6,141.6 1481.53,138.82 1477.45,136.03 1473.38,133.23 1469.3,130.43 1465.23,127.61 1461.15,124.79 1457.08,121.96 1453,119.12 1448.93,116.28 1444.85,113.42 1440.78,110.56 1436.7,107.69"/>
<polygon fill="#D95319" points="1436.7,102.36 1440.78,102.33 1444.85,102.31 1448.93,102.32 1453,102.35 1457.08,102.4 1461.15,102.47 1465.23,102.56 1469.3,102.67 1473.38,102.8 1477.45,102.94 1481.53,103.11 1485.6,103.29 1489.68,103.49 1493.75,103.7 1497.83,103.94 1501.9,104.18 1505.98,104.44 1510.05,104.72 1514.13,105.01 1518.2,105.32 1522.28,105.64 1526.35,105.97 1530.43,106.31 1534.5,106.67 1538.58,107.03 1542.66,107.41 1546.73,107.8 1550.81,108.2 1554.88,108.61 1558.96,109.03 1563.03,109.46 1567.11,109.9 1571.18,110.35 1575.26,110.8 1579.33,111.27 1583.41,111.74 1587.48,112.21 1591.56,112.7 1595.63,113.19 1599.71,113.69 1603.78,114.19 1607.86,114.7 1611.93,115.22 1616.01,115.74 1620.08,116.26 1624.16,116.79 1628.23,117.33 1632.31,117.86 1636.38,118.41 1640.46,118.95 1644.54,119.5 1648.61,120.05 1652.69,120.6 1656.76,121.16 1660.84,121.72 1664.91,122.28 1668.99,122.84 1673.06,123.4 1677.14,123.96 1681.21,124.53 1685.29,125.1 1689.36,125.66 1693.44,126.23 1697.51,126.8 1701.59,127.37 1705.66,127.93 1709.74,128.5 1713.81,129.07 1717.89,129.63 1721.96,130.2 1726.04,130.77 1730.11,131.33 1734.19,131.89 1738.26,132.45 1742.34,133.01 1746.42,133.57 1750.49,134.13 1754.57,134.69 1758.64,135.24 1762.72,135.79 1766.79,136.34 1770.87,136.89 1774.94,137.44 1779.02,137.98 1783.09,138.52 1787.17,139.06 1791.24,139.6 1795.32,140.13 1799.39,140.66 1803.47,141.19 1807.54,141.72 1811.62,142.24 1815.69,142.76 1819.77,143.28 1823.84,143.8 1827.92,144.31 1831.99,144.82 1836.07,145.33 1840.14,145.84 1844.22,146.34 1848.3,146.84 1852.37,147.34 1856.45,147.83 1860.52,148.33 1864.6,148.82 1868.67,149.31 1872.75,149.79 1876.82,150.28 1880.9,150.76 1884.97,151.24 1889.05,151.72 1893.12,152.19 1897.2,152.67 1901.27,153.14 1905.35,153.61 1909.42,154.08 1913.5,154.55 1917.57,155.01 1921.65,155.48 1925.72,155.94 1929.8,156.41 1933.87,156.87 1937.95,157.33 1942.02,157.8 1946.1,158.26 1946.1,163.56 1942.02,163.1 1937.95,162.63 1933.87,162.17 1929.8,161.71 1925.72,161.24 1921.65,160.78 1917.57,160.31 1913.5,159.85 1909.42,159.38 1905.35,158.91 1901.27,158.44 1897.2,157.97 1893.12,157.49 1889.05,157.02 1884.97,156.54 1880.9,156.06 1876.82,155.58 1872.75,155.09 1868.67,154.61 1864.6,154.12 1860.52,153.63 1856.45,153.13 1852.37,152.64 1848.3,152.14 1844.22,151.64 1840.14,151.14 1836.07,150.63 1831.99,150.12 1827.92,149.61 1823.84,149.1 1819.77,148.58 1815.69,148.06 1811.62,147.54 1807.54,147.02 1803.47,146.49 1799.39,145.96 1795.32,145.43 1791.24,144.9 1787.17,144.36 1783.09,143.82 1779.02,143.28 1774.94,142.74 1770.87,142.19 1766.79,141.64 1762.72,141.09 1758.64,140.54 1754.57,139.99 1750.49,139.43 1746.42,138.87 1742.34,138.31 1738.26,137.75 1734.19,137.19 1730.11,136.63 1726.04,136.07 1721.96,135.5 1717.89,134.93 1713.81,134.37 1709.74,133.8 1705.66,133.23 1701.59,132.67 1697.51,132.1 1693.44,131.53 1689.36,130.96 1685.29,130.4 1681.21,129.83 1677.14,129.26 1673.06,128.7 1668.99,128.14 1664.91,127.58 1660.84,127.02 1656.76,126.46 1652.69,125.9 1648.61,125.35 1644.54,124.8 1640.46,124.25 1636.38,123.71 1632.31,123.16 1628.23,122.63 1624.16,122.09 1620.08,121.56 1616.01,121.04 1611.93,120.52 1607.86,120 1603.78,119.49 1599.71,118.99 1595.63,118.49 1591.56,118 1587.48,117.51 1583.41,117.04 1579.33,116.57 1575.26,116.1 1571.18,115.65 1567.11,115.2 1563.03,114.76 1558.96,114.33 1554.88,113.91 1550.81,113.5 1546.73,113.1 1542.66,112.71 1538.58,112.33 1534.5,111.97 1530.43,111.61 1526.35,111.27 1522.28,110.94 1518.2,110.62 1514.13,110.31 1510.05,110.02 1505.98,109.74 1501.9,109.48 1497.83,109.24 1493.75,109 1489.68,108.79 1485.6,108.59 1481.53,108.41 1477.45,108.24 1473.38,108.1 1469.3,107.97 1465.23,107.86 1461.15,107.77 1457.08,107.7 1453,107.65 1448.93,107.62 1444.85,107.61 1440.78,107.63 1436.7,107.66"/>
</g>
<rect x="301.5" y="69.5" width="276.2" height="143.9" fill="#fff" stroke="#141414" stroke-width="1.5"/>
<line x1="317.4" y1="91.1" x2="398.8" y2="91.1" stroke="#77AC30" stroke-width="5.3"/>
<text class="lg" x="406.5" y="100.9">Without control</text>
<line x1="317.4" y1="124.5" x2="398.8" y2="124.5" stroke="#D95319" stroke-width="5.3"/>
<text class="lg" x="406.5" y="134.3">Rifampin</text>
<line x1="317.4" y1="157.9" x2="398.8" y2="157.9" stroke="#EDB120" stroke-width="5.3"/>
<text class="lg" x="406.5" y="167.7">Dapsone</text>
<line x1="317.4" y1="191.3" x2="398.8" y2="191.3" stroke="#0072BD" stroke-width="5.3"/>
<text class="lg" x="406.5" y="201.1">Clofazimine</text>
<rect x="857.2" y="69.5" width="391.1" height="143.9" fill="#fff" stroke="#141414" stroke-width="1.5"/>
<line x1="873" y1="91.1" x2="954" y2="91.1" stroke="#77AC30" stroke-width="5.3"/>
<text class="lg" x="961.6" y="100.9">Without control</text>
<line x1="873" y1="124.5" x2="954" y2="124.5" stroke="#9A5B6D" stroke-width="5.3"/>
<text class="lg" x="961.6" y="134.3">Rifampin and Dapsone</text>
<line x1="873" y1="157.9" x2="954" y2="157.9" stroke="#E57E1B" stroke-width="5.3"/>
<text class="lg" x="961.6" y="167.7">Dapsone and Clofazimine</text>
<line x1="873" y1="191.3" x2="954" y2="191.3" stroke="#70966C" stroke-width="5.3"/>
<text class="lg" x="961.6" y="201.1">Rifampin and Clofazimine</text>
<rect x="1642.3" y="69.5" width="276.6" height="76.5" fill="#fff" stroke="#141414" stroke-width="1.5"/>
<line x1="1658.5" y1="91.1" x2="1739.9" y2="91.1" stroke="#77AC30" stroke-width="5.3"/>
<text class="lg" x="1747.6" y="100.9">Without control</text>
<line x1="1658.5" y1="124.5" x2="1739.9" y2="124.5" stroke="#D95319" stroke-width="5.3"/>
<text class="lg" x="1747.6" y="134.3">With MDT</text>
<text class="tt" x="350.3" y="23.8" text-anchor="middle">Frame-1</text>
<text class="tt" x="1024.3" y="21.4" text-anchor="middle">Frame-2</text>
<text class="tt" x="1696.5" y="25.6" text-anchor="middle">Frame-3</text>
<text class="lb" x="349.7" y="532.6" text-anchor="middle">Time(Days)</text>
<text class="lb" x="1020.5" y="532.6" text-anchor="middle">Time(Days)</text>
<text class="lb" x="1691.5" y="532.6" text-anchor="middle">Time(Days)</text>
<text class="lb" transform="translate(24.8 250.5) rotate(-90)" text-anchor="middle">Suceptible cells S(t)</text>
<g stroke="#000" stroke-width="1.4" fill="none">
<rect x="95.1" y="617.5" width="401.6" height="413.5"/>
<path d="M174.21 1031v-5M174.21 617.5v5M254.61 1031v-5M254.61 617.5v5M335.01 1031v-5M335.01 617.5v5M415.42 1031v-5M415.42 617.5v5M495.82 1031v-5M495.82 617.5v5M95.1 982.55h5M496.7 982.55h-5M95.1 899.86h5M496.7 899.86h-5M95.1 817.18h5M496.7 817.18h-5M95.1 734.5h5M496.7 734.5h-5M95.1 651.81h5M496.7 651.81h-5"/>
</g>
<g class="tk">
<text transform="translate(174.21 1069.3) scale(1 1.045)" text-anchor="middle">20</text>
<text transform="translate(254.61 1069.3) scale(1 1.045)" text-anchor="middle">25</text>
<text transform="translate(335.01 1069.3) scale(1 1.045)" text-anchor="middle">30</text>
<text transform="translate(415.42 1069.3) scale(1 1.045)" text-anchor="middle">35</text>
<text transform="translate(495.82 1069.3) scale(1 1.045)" text-anchor="middle">40</text>
<text transform="translate(83.8 993.45) scale(1 1.045)" text-anchor="end">490</text>
<text transform="translate(83.8 910.76) scale(1 1.045)" text-anchor="end">500</text>
<text transform="translate(83.8 828.08) scale(1 1.045)" text-anchor="end">510</text>
<text transform="translate(83.8 745.4) scale(1 1.045)" text-anchor="end">520</text>
<text transform="translate(83.8 662.71) scale(1 1.045)" text-anchor="end">530</text>
</g>
<clipPath id="c4"><rect x="94.3" y="616.7" width="403.2" height="415.1"/></clipPath>
<g clip-path="url(#c4)" stroke="none">
<polygon fill="#0072BD" points="95.1,724.38 101.92,724.64 108.74,724.93 115.56,725.24 122.38,725.57 129.2,725.94 136.01,726.32 142.83,726.73 149.65,727.16 156.47,727.61 163.29,728.08 170.11,728.58 176.93,729.09 183.75,729.63 190.57,730.19 197.39,730.77 204.2,731.36 211.02,731.98 217.84,732.62 224.66,733.27 231.48,733.94 238.3,734.63 245.12,735.34 251.94,736.06 258.76,736.8 265.58,737.55 272.4,738.32 279.21,739.11 286.03,739.91 292.85,740.72 299.67,741.55 306.49,742.39 313.31,743.25 320.13,744.12 326.95,745 333.77,745.89 340.59,746.79 347.4,747.7 354.22,748.63 361.04,749.56 367.86,750.51 374.68,751.46 381.5,752.43 388.32,753.4 395.14,754.38 401.96,755.37 408.78,756.36 415.6,757.37 422.41,758.37 429.23,759.39 436.05,760.41 442.87,761.44 449.69,762.47 456.51,763.51 463.33,764.55 470.15,765.59 476.97,766.64 483.79,767.69 490.6,768.74 497.42,769.8 497.42,775.1 490.6,774.04 483.79,772.99 476.97,771.94 470.15,770.89 463.33,769.85 456.51,768.81 449.69,767.77 442.87,766.74 436.05,765.71 429.23,764.69 422.41,763.67 415.6,762.67 408.78,761.66 401.96,760.67 395.14,759.68 388.32,758.7 381.5,757.73 374.68,756.76 367.86,755.81 361.04,754.86 354.22,753.93 347.4,753 340.59,752.09 333.77,751.19 326.95,750.3 320.13,749.42 313.31,748.55 306.49,747.69 299.67,746.85 292.85,746.02 286.03,745.21 279.21,744.41 272.4,743.62 265.58,742.85 258.76,742.1 251.94,741.36 245.12,740.64 238.3,739.93 231.48,739.24 224.66,738.57 217.84,737.92 211.02,737.28 204.2,736.66 197.39,736.07 190.57,735.49 183.75,734.93 176.93,734.39 170.11,733.88 163.29,733.38 156.47,732.91 149.65,732.46 142.83,732.03 136.01,731.62 129.2,731.24 122.38,730.87 115.56,730.54 108.74,730.23 101.92,729.94 95.1,729.68"/>
<polygon fill="#77AC30" points="88.93,937.06 205.77,1033.44 205.77,1038.74 88.93,942.36"/>
<polygon fill="#D95319" points="88.93,937.06 205.77,1033.44 205.77,1038.74 88.93,942.36"/>
<polygon fill="#EDB120" points="88.86,934.05 212.84,1033.35 212.84,1038.65 88.86,939.35"/>
</g>
<g stroke="#000" stroke-width="1.4" fill="none">
<rect x="535.5" y="617.5" width="405.6" height="413.5"/>
<path d="M619.05 1031v-5M619.05 617.5v5M722.7 1031v-5M722.7 617.5v5M826.35 1031v-5M826.35 617.5v5M930.01 1031v-5M930.01 617.5v5M535.5 1016.48h5M941.1 1016.48h-5M535.5 910.9h5M941.1 910.9h-5M535.5 805.32h5M941.1 805.32h-5M535.5 699.75h5M941.1 699.75h-5"/>
</g>
<g class="tk">
<text transform="translate(619.05 1069.3) scale(1 1.045)" text-anchor="middle">10.2</text>
<text transform="translate(722.7 1069.3) scale(1 1.045)" text-anchor="middle">10.3</text>
<text transform="translate(826.35 1069.3) scale(1 1.045)" text-anchor="middle">10.4</text>
<text transform="translate(930.01 1069.3) scale(1 1.045)" text-anchor="middle">10.5</text>
<text transform="translate(951.5 1027.38) scale(1 1.045)" text-anchor="start">502.4</text>
<text transform="translate(951.5 921.8) scale(1 1.045)" text-anchor="start">502.6</text>
<text transform="translate(951.5 816.22) scale(1 1.045)" text-anchor="start">502.8</text>
<text transform="translate(951.5 710.65) scale(1 1.045)" text-anchor="start">503</text>
</g>
<clipPath id="c5"><rect x="534.7" y="616.7" width="407.2" height="415.1"/></clipPath>
<g clip-path="url(#c5)" stroke="none">
<polygon fill="#77AC30" points="512.66,713.44 592.66,782.05 680,856.95 765,930.25 830,984.95 882.4,1028.6 962.4,1095.24 962.4,1100.54 882.4,1033.9 830,990.25 765,935.55 680,862.25 592.66,787.35 512.66,718.74"/>
<polygon fill="#D95319" points="493.6,713.35 573.6,782.05 660,856.25 745,929.75 810,984.35 862.95,1028.6 942.95,1095.46 942.95,1100.76 862.95,1033.9 810,989.65 745,935.05 660,861.55 573.6,787.35 493.6,718.65"/>
<polygon fill="#EDB120" points="571.8,670.51 651.8,736.45 740,809.15 825,879.35 890,931.75 941.15,972.95 1021.15,1037.39 1021.15,1042.69 941.15,978.25 890,937.05 825,884.65 740,814.45 651.8,741.75 571.8,675.81"/>
</g>
<g stroke="#000" stroke-width="1.4" fill="none">
<rect x="1086.9" y="617.5" width="404.8" height="413.5"/>
<path d="M1130.73 1031v-5M1130.73 617.5v5M1292.6 1031v-5M1292.6 617.5v5M1454.47 1031v-5M1454.47 617.5v5M1086.9 1011.98h5M1491.7 1011.98h-5M1086.9 929.28h5M1491.7 929.28h-5M1086.9 846.58h5M1491.7 846.58h-5M1086.9 763.88h5M1491.7 763.88h-5M1086.9 681.18h5M1491.7 681.18h-5"/>
</g>
<g class="tk">
<text transform="translate(1130.73 1069.3) scale(1 1.045)" text-anchor="middle">55</text>
<text transform="translate(1292.6 1069.3) scale(1 1.045)" text-anchor="middle">60</text>
<text transform="translate(1454.47 1069.3) scale(1 1.045)" text-anchor="middle">65</text>
<text transform="translate(1075.6 1022.88) scale(1 1.045)" text-anchor="end">420</text>
<text transform="translate(1075.6 940.18) scale(1 1.045)" text-anchor="end">425</text>
<text transform="translate(1075.6 857.48) scale(1 1.045)" text-anchor="end">430</text>
<text transform="translate(1075.6 774.78) scale(1 1.045)" text-anchor="end">435</text>
<text transform="translate(1075.6 692.08) scale(1 1.045)" text-anchor="end">440</text>
</g>
<clipPath id="c6"><rect x="1086.1" y="616.7" width="406.4" height="415.1"/></clipPath>
<g clip-path="url(#c6)" stroke="none">
<polygon fill="#77AC30" points="1078.9,745.33 1086.9,751.25 1150,797.95 1290,897.75 1400,976.05 1473.2,1028.45 1481.2,1034.18 1481.2,1039.48 1473.2,1033.75 1400,981.35 1290,903.05 1150,803.25 1086.9,756.55 1078.9,750.63"/>
<polygon fill="#9A5B6D" points="1078.9,674.77 1086.9,680.05 1180,741.45 1330,837.95 1491.7,941.75 1499.7,946.89 1499.7,952.19 1491.7,947.05 1330,843.25 1180,746.75 1086.9,685.35 1078.9,680.07"/>
</g>
<g stroke="#000" stroke-width="1.4" fill="none">
<rect x="1534.7" y="617.5" width="405.4" height="413.5"/>
<path d="M1600.81 1031v-5M1600.81 617.5v5M1730.96 1031v-5M1730.96 617.5v5M1861.1 1031v-5M1861.1 617.5v5M1534.7 1002.88h5M1940.1 1002.88h-5M1534.7 936.72h5M1940.1 936.72h-5M1534.7 870.56h5M1940.1 870.56h-5M1534.7 804.4h5M1940.1 804.4h-5M1534.7 738.24h5M1940.1 738.24h-5M1534.7 672.08h5M1940.1 672.08h-5"/>
</g>
<g class="tk">
<text transform="translate(1600.81 1069.3) scale(1 1.045)" text-anchor="middle">38</text>
<text transform="translate(1730.96 1069.3) scale(1 1.045)" text-anchor="middle">40</text>
<text transform="translate(1861.1 1069.3) scale(1 1.045)" text-anchor="middle">42</text>
<text transform="translate(1950.5 1013.78) scale(1 1.045)" text-anchor="start">506</text>
<text transform="translate(1950.5 947.62) scale(1 1.045)" text-anchor="start">508</text>
<text transform="translate(1950.5 881.46) scale(1 1.045)" text-anchor="start">510</text>
<text transform="translate(1950.5 815.3) scale(1 1.045)" text-anchor="start">512</text>
<text transform="translate(1950.5 749.14) scale(1 1.045)" text-anchor="start">514</text>
<text transform="translate(1950.5 682.98) scale(1 1.045)" text-anchor="start">516</text>
</g>
<clipPath id="c7"><rect x="1533.9" y="616.7" width="407" height="415.1"/></clipPath>
<g clip-path="url(#c7)" stroke="none">
<polygon fill="#E57E1B" points="1526.91,767.32 1947.99,838.28 1947.99,843.58 1526.91,772.62"/>
<polygon fill="#70966C" points="1526.94,799.57 1947.96,879.03 1947.96,884.33 1526.94,804.87"/>
</g>
<rect x="374.9" y="640.3" width="276.1" height="143.3" fill="#fff" stroke="#141414" stroke-width="1.5"/>
<line x1="391" y1="662" x2="472" y2="662" stroke="#77AC30" stroke-width="5.3"/>
<text class="lg" x="480" y="671.7">Without control</text>
<line x1="391" y1="695.5" x2="472" y2="695.5" stroke="#D95319" stroke-width="5.3"/>
<text class="lg" x="480" y="705.2">Rifampin</text>
<line x1="391" y1="729" x2="472" y2="729" stroke="#EDB120" stroke-width="5.3"/>
<text class="lg" x="480" y="738.7">Dapsone</text>
<line x1="391" y1="762.7" x2="472" y2="762.7" stroke="#0072BD" stroke-width="5.3"/>
<text class="lg" x="480" y="772.4">Clofazimine</text>
<rect x="1319.7" y="640.3" width="391" height="143.3" fill="#fff" stroke="#141414" stroke-width="1.5"/>
<line x1="1336" y1="662" x2="1416.2" y2="662" stroke="#77AC30" stroke-width="5.3"/>
<text class="lg" x="1424.5" y="671.7">Without control</text>
<line x1="1336" y1="695.5" x2="1416.2" y2="695.5" stroke="#9A5B6D" stroke-width="5.3"/>
<text class="lg" x="1424.5" y="705.2">Rifampin and Dapsone</text>
<line x1="1336" y1="729" x2="1416.2" y2="729" stroke="#E57E1B" stroke-width="5.3"/>
<text class="lg" x="1424.5" y="738.7">Dapsone and Clofazimine</text>
<line x1="1336" y1="762.7" x2="1416.2" y2="762.7" stroke="#70966C" stroke-width="5.3"/>
<text class="lg" x="1424.5" y="772.4">Rifampin and Clofazimine</text>
<text class="tt" x="516.6" y="596.6" text-anchor="middle" style="font-size:26.8px">Magnified Frame-1</text>
<text class="tt" x="1519" y="600" text-anchor="middle" style="font-size:26.8px">Magnified Frame-2</text>
<text class="lb" x="296" y="1107.6" text-anchor="middle">Time(Days)</text>
<text class="lb" x="738" y="1107.4" text-anchor="middle">Time(Days)</text>
<text class="lb" x="1289" y="1107.6" text-anchor="middle">Time(Days)</text>
<text class="lb" x="1737" y="1107.8" text-anchor="middle">Time(Days)</text>
<text class="lb" transform="translate(24.8 824.5) rotate(-90)" text-anchor="middle">Suceptible cells S(t)</text>
</svg>
</body>
</html>
